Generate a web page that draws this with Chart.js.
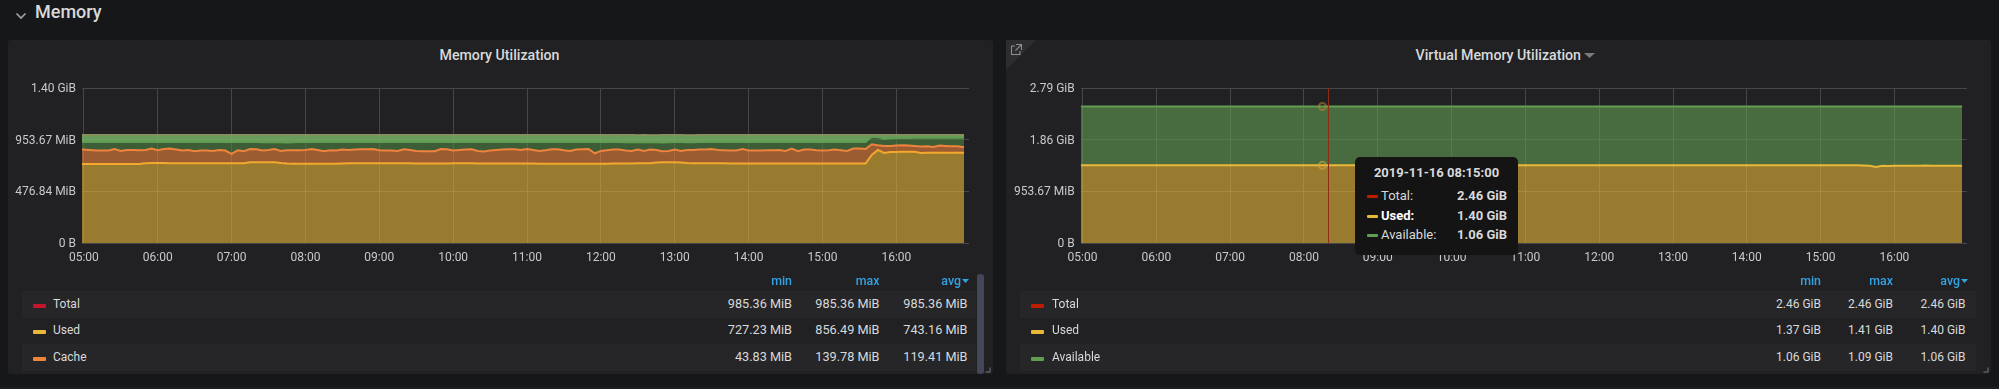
<!DOCTYPE html>
<html lang="en">
<head>
    <meta charset="UTF-8">
    <title>Memory</title>
    <script src="https://cdn.jsdelivr.net/npm/chart.js"></script>
    <style>
        html, body { margin: 0; padding: 0; }
        body {
            background-color: #161719;
            width: 1999px;
            height: 389px;
            overflow: hidden;
            position: relative;
            font-family: Roboto, sans-serif;
            font-size: 12px;
            color: #d8d9da;
        }
        .abs { position: absolute; white-space: nowrap; }
        .panel { position: absolute; top: 40px; height: 334px; background: #212124; border-radius: 3px; }
        .title { position: absolute; top: 46px; line-height: 18px; font-size: 14.2px; font-weight: 500; color: #d8d9da; }
        canvas { position: absolute; top: 60px; }
        .row { position: absolute; height: 27px; background: #262628; }
        .swatch { position: absolute; width: 13px; height: 4px; border-radius: 1px; }
        .head { color: #33a2e5; font-weight: 500; font-size: 12.4px; }
        #tooltip {
            position: absolute; left: 1355px; top: 157px; width: 163px; height: 98px;
            background: #141414; border-radius: 5px; font-size: 13px; color: #d8d9da; z-index: 5;
        }
    </style>
</head>
<body>
    <svg class="abs" style="left:15px;top:12px" width="12" height="8"><path d="M1.5 1.5 L6 6 L10.5 1.5" fill="none" stroke="#9fa1a4" stroke-width="1.7"/></svg>
    <div class="abs" style="left:35px;top:1px;line-height:22px;font-size:18px;font-weight:500">Memory</div>

    <div class="panel" style="left:8px;width:985px"></div>
    <div class="panel" style="left:1006px;width:985px"></div>
    <div class="abs" style="left:0;top:387px;width:1999px;height:2px;background:#1d1e20"></div>

    <div class="title" style="left:439.5px">Memory Utilization</div>
    <div class="title" style="left:1415.5px">Virtual Memory Utilization</div>
    <svg class="abs" style="left:1584px;top:53px" width="12" height="6"><path d="M0 0 L11 0 L5.5 5 Z" fill="#7b7b7e"/></svg>

    <svg class="abs" style="left:1006px;top:40px" width="30" height="30">
        <path d="M0 0 L30 0 L0 30 Z" fill="#2d2d30"/>
        <path d="M9 6 H5.5 V14.5 H14 V11 M10 4.5 H15.5 V10 M15.5 4.5 L9.5 10.5" fill="none" stroke="#8e8e91" stroke-width="1.1"/>
    </svg>

    <canvas id="memChart" width="985" height="215" style="left:8px"></canvas>
    <canvas id="virtChart" width="985" height="215" style="left:1006px"></canvas>

    <div class="abs" style="left:977px;top:274px;width:7px;height:100px;background:#444757;border-radius:3px"></div>
    <svg class="abs" style="left:985px;top:367px" width="6" height="6"><path d="M0.5 5 H5 V0.5" fill="none" stroke="#77787b"/></svg>
    <svg class="abs" style="left:1983px;top:367px" width="6" height="6"><path d="M0.5 5 H5 V0.5" fill="none" stroke="#77787b"/></svg>

    <div id="tooltip"></div>

    <script>
        // minutes since midnight, one row per hour
        var times = [
            298.5,305,310,315,320,325,330,335,340,345,350,355,
            360,365,370,375,380,385,390,395,400,405,410,415,
            420,425,430,435,440,445,450,455,460,465,470,475,
            480,485,490,495,500,505,510,515,520,525,530,535,
            540,545,550,555,560,565,570,575,580,585,590,595,
            600,605,610,615,620,625,630,635,640,645,650,655,
            660,665,670,675,680,685,690,695,700,705,710,715,
            720,725,730,735,740,745,750,755,760,765,770,775,
            780,785,790,795,800,805,810,815,820,825,830,835,
            840,845,850,855,860,865,870,875,880,885,890,895,
            900,905,910,915,920,925,930,935,940,945,950,955,
            960,965,970,975,980,985,990,995,1000,1005,1010,1015
        ];

        // Memory Utilization, MiB
        var memUsed = [
            729,729,729,729,729,729,729,729,729,729,737,738,
            738,738,737,736,736,735,735,735,735,735,735,735,
            735,735,737,745,745,745,745,745,738,733,732,732,
            732,732,732,731,731,731,733,735,735,735,735,735,
            735,735,735,735,735,735,734,734,734,734,734,734,
            735,735,735,735,734,734,734,734,733,733,733,733,
            733,733,732,732,732,732,732,732,732,732,732,732,
            732,732,733,733,734,734,735,735,737,742,745,745,
            745,744,739,736,735,735,735,735,735,734,734,734,
            734,733,733,733,733,733,733,733,733,733,733,733,
            733,733,733,733,733,733,733,733,813,859,831,840,
            841,842,843,843,831,832,832,832,833,833,833,833
        ];
        var memCache = [
            133,130,124,124,124,139,121,130,130,127,122,134,
            118,130,134,126,117,124,112,118,118,115,124,118,
            87,121,110,123,120,108,114,123,112,123,124,124,
            127,136,127,116,125,122,129,124,127,130,130,133,
            121,118,118,115,130,124,116,113,113,113,134,131,
            118,124,127,130,116,110,119,125,129,132,132,126,
            135,126,118,124,133,133,124,118,130,133,136,96,
            118,124,129,129,119,116,127,115,125,117,102,105,
            117,106,120,123,127,127,133,124,121,119,119,134,
            119,120,120,123,123,126,117,138,114,129,129,123,
            120,123,129,123,117,138,138,135,99,44,65,56,
            58,60,56,53,59,61,55,67,63,60,60,51
        ];
        var memBuffer = [
            68,71,77,77,77,62,80,71,71,74,71,59,
            74,62,59,68,77,71,83,77,77,80,71,77,
            108,74,83,62,65,75,69,60,78,70,72,74,
            71,62,71,83,74,77,68,71,68,65,65,62,
            74,77,77,80,65,71,80,83,83,83,62,65,
            77,71,68,65,80,86,77,71,68,65,65,71,
            62,71,80,74,65,65,74,80,68,65,62,102,
            80,74,68,68,75,78,66,80,66,69,79,78,
            68,80,69,69,68,68,62,71,74,77,77,62,
            77,77,77,74,74,71,80,59,83,68,68,74,
            77,74,68,74,80,59,59,62,64,73,62,68,
            68,65,68,74,80,77,83,71,74,77,77,86
        ];
        var memFree = [
            68,68,68,68,68,68,68,68,68,68,68,68,
            68,68,68,68,68,68,68,68,68,68,68,68,
            68,68,68,68,68,70,70,70,70,72,70,68,
            68,68,68,68,68,68,68,68,68,68,68,68,
            68,68,68,68,68,68,68,68,68,68,68,68,
            68,68,68,68,68,68,68,68,68,68,68,68,
            68,68,68,68,68,68,68,68,68,68,68,68,
            68,68,68,68,72,72,68,68,68,68,72,72,
            68,68,68,68,68,68,68,68,68,68,68,68,
            68,68,68,68,68,68,68,68,68,68,68,68,
            68,68,68,68,68,68,68,68,22,22,40,34,
            31,31,31,28,28,28,28,28,28,28,28,28
        ];
        var memTotal = [
            998,998,998,998,998,998,998,998,998,998,998,998,
            998,998,998,998,998,998,998,998,998,998,998,998,
            998,998,998,998,998,998,998,998,998,998,998,998,
            998,998,998,998,998,998,998,998,998,998,998,998,
            998,998,998,998,998,998,998,998,998,998,998,998,
            998,998,998,998,998,998,998,998,998,998,998,998,
            998,998,998,998,998,998,998,998,998,998,998,998,
            998,998,998,998,998,998,998,998,998,998,998,998,
            998,998,998,998,998,998,998,998,998,998,998,998,
            998,998,998,998,998,998,998,998,998,998,998,998,
            998,998,998,998,998,998,998,998,998,998,998,998,
            998,998,998,998,998,998,998,998,998,998,998,998
        ];

        // Virtual Memory Utilization, MiB
        var virtUsed = [
            1434,1434,1434,1434,1433,1433,1433,1433,1434,1434,1434,1434,
            1434,1434,1434,1434,1434,1434,1434,1434,1435,1437,1437,1436,
            1435,1435,1434,1434,1435,1436,1436,1435,1434,1434,1434,1434,
            1434,1434,1434,1434,1434,1434,1434,1434,1434,1434,1434,1434,
            1434,1434,1434,1434,1434,1434,1434,1434,1434,1434,1434,1434,
            1434,1434,1434,1434,1434,1434,1434,1434,1434,1434,1434,1434,
            1434,1434,1434,1434,1433,1433,1433,1434,1434,1434,1434,1434,
            1434,1434,1434,1434,1434,1434,1434,1434,1434,1435,1435,1434,
            1434,1434,1434,1434,1434,1434,1434,1435,1437,1437,1436,1435,
            1434,1434,1434,1434,1434,1434,1433,1433,1433,1433,1433,1434,
            1434,1434,1434,1434,1434,1434,1433,1431,1425,1403,1425,1421,
            1424,1424,1424,1424,1428,1430,1428,1426,1428,1428,1427,1427
        ];
        var virtAvailable = [
            1085,1085,1085,1085,1086,1086,1086,1086,1085,1085,1085,1085,
            1085,1085,1085,1085,1085,1085,1085,1085,1084,1082,1082,1083,
            1084,1084,1085,1085,1084,1083,1083,1084,1085,1085,1085,1085,
            1085,1085,1085,1085,1085,1085,1085,1085,1085,1085,1085,1085,
            1085,1085,1085,1085,1085,1085,1085,1085,1085,1085,1085,1085,
            1085,1085,1085,1085,1085,1085,1085,1085,1085,1085,1085,1085,
            1085,1085,1085,1085,1086,1086,1086,1085,1085,1085,1085,1085,
            1085,1085,1085,1085,1085,1085,1085,1085,1085,1084,1084,1085,
            1085,1085,1085,1085,1085,1085,1085,1084,1082,1082,1083,1084,
            1085,1085,1085,1085,1085,1085,1086,1086,1086,1086,1086,1085,
            1085,1085,1085,1085,1085,1085,1086,1088,1094,1116,1094,1098,
            1095,1095,1095,1095,1091,1089,1091,1093,1091,1091,1092,1092
        ];
        var virtTotal = [
            2519,2519,2519,2519,2519,2519,2519,2519,2519,2519,2519,2519,
            2519,2519,2519,2519,2519,2519,2519,2519,2519,2519,2519,2519,
            2519,2519,2519,2519,2519,2519,2519,2519,2519,2519,2519,2519,
            2519,2519,2519,2519,2519,2519,2519,2519,2519,2519,2519,2519,
            2519,2519,2519,2519,2519,2519,2519,2519,2519,2519,2519,2519,
            2519,2519,2519,2519,2519,2519,2519,2519,2519,2519,2519,2519,
            2519,2519,2519,2519,2519,2519,2519,2519,2519,2519,2519,2519,
            2519,2519,2519,2519,2519,2519,2519,2519,2519,2519,2519,2519,
            2519,2519,2519,2519,2519,2519,2519,2519,2519,2519,2519,2519,
            2519,2519,2519,2519,2519,2519,2519,2519,2519,2519,2519,2519,
            2519,2519,2519,2519,2519,2519,2519,2519,2519,2519,2519,2519,
            2519,2519,2519,2519,2519,2519,2519,2519,2519,2519,2519,2519
        ];

        // axes
        var xTicks = [300, 360, 420, 480, 540, 600, 660, 720, 780, 840, 900, 960];
        var xLabels = ['05:00', '06:00', '07:00', '08:00', '09:00', '10:00', '11:00', '12:00', '13:00', '14:00', '15:00', '16:00'];
        var memYTicks = [0, 476.84, 953.67, 1430.51];
        var memYLabels = ['0 B', '476.84 MiB', '953.67 MiB', '1.40 GiB'];
        var virtYTicks = [0, 953.67, 1907.35, 2861.02];
        var virtYLabels = ['0 B', '953.67 MiB', '1.86 GiB', '2.79 GiB'];

        // hover state of the right panel
        var hoverTime = 495;
        var hoverUsed = [1434];
        var hoverTop = [2519];
        var crosshairTime = 499.5;

        // legends: name, min, max, avg
        var memLegend = [
            ['Total', '985.36 MiB', '985.36 MiB', '985.36 MiB'],
            ['Used', '727.23 MiB', '856.49 MiB', '743.16 MiB'],
            ['Cache', '43.83 MiB', '139.78 MiB', '119.41 MiB']
        ];
        var virtLegend = [
            ['Total', '2.46 GiB', '2.46 GiB', '2.46 GiB'],
            ['Used', '1.37 GiB', '1.41 GiB', '1.40 GiB'],
            ['Available', '1.06 GiB', '1.09 GiB', '1.06 GiB']
        ];
        var tooltipRows = [
            ['Total:', '2.46 GiB'],
            ['Used:', '1.40 GiB'],
            ['Available:', '1.06 GiB']
        ];

        function points(values) {
            return values.map(function(v, i) { return {x: times[i], y: v}; });
        }

        function area(label, values, color, fillColor, fill, width) {
            return {
                label: label,
                data: points(values),
                stack: 'mem',
                borderColor: color,
                backgroundColor: fillColor,
                borderWidth: width,
                fill: fill,
                pointRadius: 0,
                tension: 0
            };
        }

        function makeChart(id, datasets, yTicks, yLabels, yWidth, plugins) {
            return new Chart(document.getElementById(id).getContext('2d'), {
                type: 'line',
                data: {datasets: datasets},
                plugins: plugins || [],
                options: {
                    responsive: false,
                    animation: false,
                    layout: {padding: {top: 28, right: 24, left: 0, bottom: 0}},
                    plugins: {legend: {display: false}, tooltip: {enabled: false}},
                    scales: {
                        x: {
                            type: 'linear',
                            min: 298.5,
                            max: 1019,
                            afterBuildTicks: function(s) { s.ticks = xTicks.map(function(v) { return {value: v}; }); },
                            afterFit: function(s) { s.height = 32; },
                            grid: {color: '#47474a', drawTicks: false},
                            border: {display: false},
                            ticks: {
                                autoSkip: false, maxRotation: 0, padding: 8,
                                color: '#c8c9ca', font: {family: 'Roboto', size: 12},
                                callback: function(v) { return xLabels[xTicks.indexOf(v)]; }
                            }
                        },
                        y: {
                            stacked: true,
                            min: 0,
                            max: yTicks[yTicks.length - 1],
                            afterBuildTicks: function(s) { s.ticks = yTicks.map(function(v) { return {value: v}; }); },
                            afterFit: function(s) { s.width = yWidth; },
                            grid: {color: '#47474a', drawTicks: false},
                            border: {display: false},
                            ticks: {
                                padding: 6,
                                labelOffset: 1,
                                color: '#c8c9ca', font: {family: 'Roboto', size: 12},
                                callback: function(v) { return yLabels[yTicks.indexOf(v)]; }
                            }
                        }
                    }
                }
            });
        }

        // red line the mouse left on the right panel
        var crosshair = {
            id: 'crosshair',
            afterDatasetsDraw: function(chart) {
                var x = chart.scales.x.getPixelForValue(crosshairTime);
                var c = chart.ctx;
                c.save();
                c.strokeStyle = '#8f2c12';
                c.lineWidth = 1;
                c.beginPath();
                c.moveTo(Math.round(x) + 0.5, chart.chartArea.top);
                c.lineTo(Math.round(x) + 0.5, chart.chartArea.bottom);
                c.stroke();
                c.restore();
            }
        };

        var totalMem = area('Total', memTotal, 'rgba(196,22,42,0.35)', 'transparent', false, 1);
        totalMem.stack = 'total';
        totalMem.order = -1;

        makeChart('memChart', [
            area('Used', memUsed, '#f2a92e', 'rgba(234,184,57,0.6)', 'origin', 2),
            area('Cache', memCache, '#ef843c', 'rgba(239,132,60,0.6)', '-1', 2),
            area('Buffer', memBuffer, '#5f9e50', 'rgba(80,134,66,0.6)', '-1', 1.5),
            area('Free', memFree, '#7eb26d', 'rgba(118,178,100,0.85)', '-1', 1.5),
            totalMem
        ], memYTicks, memYLabels, 74);

        var totalVirt = area('Total', virtTotal, '#bf1b00', 'transparent', false, 1);
        totalVirt.stack = 'total';

        function hoverRing(values, color, key) {
            return {
                label: key,
                data: values.map(function(v) { return {x: hoverTime, y: v}; }),
                stack: key,
                showLine: false,
                pointRadius: 3.5,
                pointBorderWidth: 2,
                pointBorderColor: color,
                pointBackgroundColor: 'transparent',
                order: -2
            };
        }

        makeChart('virtChart', [
            area('Used', virtUsed, '#eab839', 'rgba(234,184,57,0.6)', 'origin', 2),
            area('Available', virtAvailable, '#629e51', 'rgba(98,158,81,0.6)', '-1', 2),
            totalVirt,
            hoverRing(hoverUsed, 'rgba(220,170,60,0.55)', 'ringUsed'),
            hoverRing(hoverTop, 'rgba(200,130,50,0.55)', 'ringTop')
        ], virtYTicks, virtYLabels, 74.7, [crosshair]);

        // DOM legend tables
        function addText(parent, text, style, cls) {
            var d = document.createElement('div');
            d.className = 'abs ' + (cls || '');
            d.textContent = text;
            d.style.cssText = style;
            parent.appendChild(d);
            return d;
        }

        function addLegend(rows, colors, rowLeft, rowWidth, swatchX, labelX, ends, avgHeadEnd, valueSize) {
            var pageWidth = 1999;
            var rowTops = [291, 317, 344];
            rows.forEach(function(r, i) {
                if (i !== 1) {
                    var bg = document.createElement('div');
                    bg.className = 'row';
                    bg.style.cssText = 'left:' + rowLeft + 'px;top:' + rowTops[i] + 'px;width:' + rowWidth + 'px';
                    document.body.appendChild(bg);
                }
                var sw = document.createElement('div');
                sw.className = 'swatch';
                sw.style.cssText = 'left:' + swatchX + 'px;top:' + (rowTops[i] + 13) + 'px;background:' + colors[i];
                document.body.appendChild(sw);
                addText(document.body, r[0], 'left:' + labelX + 'px;top:' + (rowTops[i] + 5) + 'px;line-height:16px');
                for (var c = 0; c < 3; c++) {
                    addText(document.body, r[c + 1], 'right:' + (pageWidth - ends[c]) + 'px;top:' + (rowTops[i] + 5) + 'px;line-height:16px;font-size:' + valueSize + 'px');
                }
            });
            var heads = ['min', 'max', 'avg'];
            for (var h = 0; h < 3; h++) {
                var end = h === 2 ? avgHeadEnd : ends[h];
                addText(document.body, heads[h], 'right:' + (pageWidth - end) + 'px;top:273px;line-height:16px', 'head');
            }
            var caret = document.createElementNS('http://www.w3.org/2000/svg', 'svg');
            caret.setAttribute('width', '8');
            caret.setAttribute('height', '5');
            caret.setAttribute('class', 'abs');
            caret.style.left = (avgHeadEnd + 0.5) + 'px';
            caret.style.top = '279px';
            caret.innerHTML = '<path d="M0 0 L7 0 L3.5 4 Z" fill="#33a2e5"/>';
            document.body.appendChild(caret);
        }

        addLegend(memLegend, ['#c4162a', '#eab839', '#ef843c'], 22, 954, 33, 53, [792, 879.5, 967.5], 961, 12.7);
        addLegend(virtLegend, ['#bf1b00', '#eab839', '#629e51'], 1020, 956, 1031, 1052, [1821, 1893, 1965.5], 1960, 12);

        // tooltip, real text
        var tip = document.getElementById('tooltip');
        addText(tip, '2019-11-16 08:15:00', 'left:0;width:163px;text-align:center;top:7px;line-height:18px;font-size:13px;font-weight:700');
        var tipColors = ['#bf1b00', '#eab839', '#629e51'];
        tooltipRows.forEach(function(r, i) {
            var top = 31 + i * 19.6;
            var sw = document.createElement('div');
            sw.className = 'swatch';
            sw.style.cssText = 'left:12px;width:11px;height:3px;top:' + (top + 7) + 'px;background:' + tipColors[i];
            tip.appendChild(sw);
            addText(tip, r[0], 'left:26px;top:' + top + 'px;line-height:16px;' + (i === 1 ? 'font-weight:700;color:#fff' : ''));
            addText(tip, r[1], 'right:11px;top:' + top + 'px;line-height:16px;font-weight:700');
        });
    </script>
</body>
</html>
